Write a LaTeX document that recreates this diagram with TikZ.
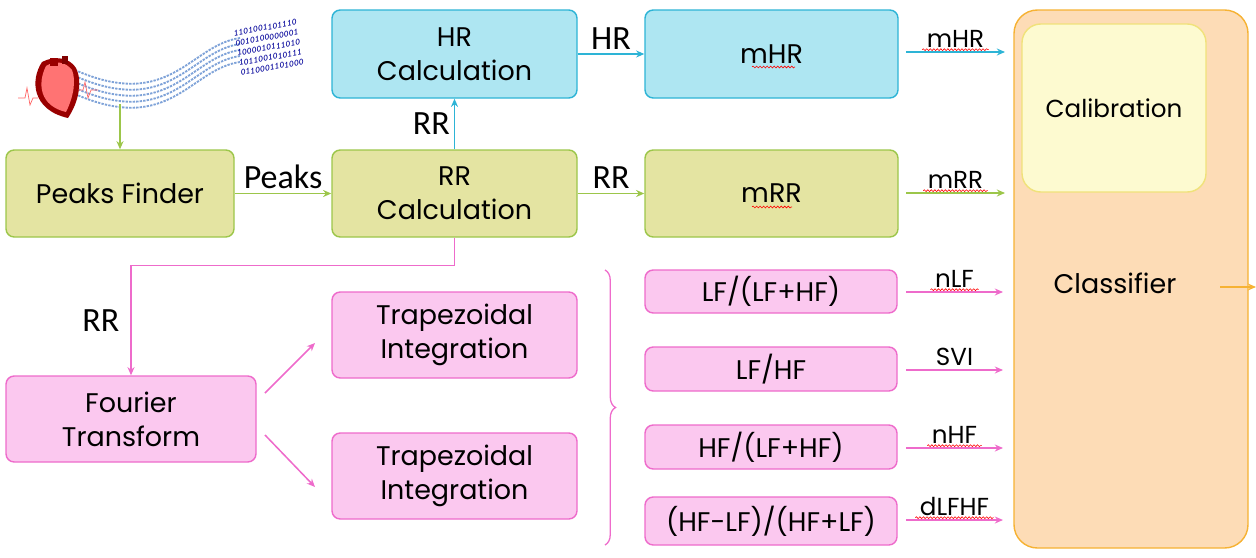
\documentclass[tikz,border=0pt]{standalone}
\usepackage{fontspec}
\setmainfont{Poppins}
\newfontfamily\carlitofam{Carlito}
\usetikzlibrary{arrows.meta,decorations.pathmorphing,decorations.pathreplacing}
\definecolor{cyF}{HTML}{AEE6F2}\definecolor{cyD}{HTML}{2DB4D6}
\definecolor{grF}{HTML}{E4E4A2}\definecolor{grD}{HTML}{9CC64A}
\definecolor{pkF}{HTML}{FBC8EF}\definecolor{pkD}{HTML}{EE6BCB}
\definecolor{orF}{HTML}{FDDCB6}\definecolor{orD}{HTML}{F6B233}
\definecolor{caF}{HTML}{FDFAD0}\definecolor{caD}{HTML}{F0E27A}
\begin{document}
\begin{tikzpicture}[x=0.03cm,y=-0.03cm,
  bx/.style={draw,rounded corners=7pt,line width=1.2pt,align=center,font=\fontsize{23}{29}\selectfont,inner sep=0},
  cy/.style={bx,fill=cyF,draw=cyD}, gr/.style={bx,fill=grF,draw=grD}, pk/.style={bx,fill=pkF,draw=pkD},
  ar/.style={-{Stealth[length=7pt,width=6pt]},line width=1.3pt},
  lb/.style={font=\carlitofam\fontsize{29}{32}\selectfont},
  lc/.style={font=\fontsize{21}{24}\selectfont},
  sq/.style={red,line width=0.5pt,decorate,decoration={snake,amplitude=0.8pt,segment length=3pt}}]
\useasboundingbox (0,0) rectangle (1256,557);
% boxes
\node[cy,minimum width=245*0.03cm,minimum height=88*0.03cm] (hr) at (454.5,54) {HR\\Calculation};
\node[cy,minimum width=253*0.03cm,minimum height=88*0.03cm] (mhr) at (771.5,54) {mHR};
\node[gr,minimum width=228*0.03cm,minimum height=87*0.03cm] (pf) at (120,193.5) {Peaks Finder};
\node[gr,minimum width=245*0.03cm,minimum height=87*0.03cm] (rr) at (454.5,193.5) {RR\\Calculation};
\node[gr,minimum width=253*0.03cm,minimum height=87*0.03cm] (mrr) at (771.5,193.5) {mRR};
\node[bx,fill=orF,draw=orD,rounded corners=20pt,minimum width=234*0.03cm,minimum height=538*0.03cm] (cl) at (1131,279) {};
\node[bx,fill=caF,draw=caD,rounded corners=16pt,minimum width=184*0.03cm,minimum height=168*0.03cm] (cal) at (1114,108) {};
\node[lc] at (1114,108) {Calibration};
\node[font=\fontsize{23}{26}\selectfont] (clt) at (1115,283) {Classifier};
\node[pk,minimum width=252*0.03cm,minimum height=43*0.03cm] (f1) at (771,291.5) {LF/(LF+HF)};
\node[pk,minimum width=252*0.03cm,minimum height=44*0.03cm] (f2) at (771,369) {LF/HF};
\node[pk,minimum width=252*0.03cm,minimum height=44*0.03cm] (f3) at (771,447) {HF/(LF+HF)};
\node[pk,minimum width=252*0.03cm,minimum height=48*0.03cm] (f4) at (771,521) {(HF-LF)/(HF+LF)};
\node[pk,minimum width=245*0.03cm,minimum height=86*0.03cm] (t1) at (454.5,335) {Trapezoidal\\Integration};
\node[pk,minimum width=245*0.03cm,minimum height=86*0.03cm] (t2) at (454.5,476) {Trapezoidal\\Integration};
\node[pk,minimum width=250*0.03cm,minimum height=86*0.03cm] (ft) at (131,419) {Fourier\\Transform};
% brace
\draw[pkD,line width=1.1pt,decorate,decoration={brace,amplitude=9pt}] (605,270) -- (605,545);
% heart & data stream
\coordinate (hb) at (120,104);
\begin{scope}[blue!60!cyan!70!black]
\foreach \i in {0,...,4}{
  \draw[line width=1.6pt,dash pattern=on 2pt off 1pt,opacity=0.5] (75,{70+6*\i}) .. controls (170,{112+6*\i}) and (190,{45+6*\i}) .. (240,{38+6*\i});
}
\end{scope}
\node[font=\ttfamily\bfseries\itshape\fontsize{8}{8.6}\selectfont,text=blue!60!black,align=right,rotate=10,inner sep=0,anchor=east] (bits) at (300,42) {1101001101110\\0010100000001\\1000010111010\\1011001010111\\0110001101000};
\fill[red!60!black] (42,62) .. controls (30,80) and (32,110) .. (68,118) .. controls (80,100) and (82,80) .. (76,68) .. controls (70,58) and (55,55) .. cycle;
\fill[red!55] (46,66) .. controls (37,84) and (40,106) .. (66,112) .. controls (74,96) and (76,80) .. (72,70) .. controls (66,62) and (55,60) .. cycle;
\fill[red!60!black] (50,58) rectangle (58,66);
\fill[red!50!black] (62,56) rectangle (68,64);
\draw[red!60,line width=0.6pt] (18,98) -- (25,98) -- (27,88) -- (30,105) -- (33,98) -- (38,98);
\draw[red!60,line width=0.6pt] (78,90) -- (83,90) -- (85,82) -- (88,98) -- (91,90) -- (98,90);
\draw[ar,grD] (hb) -- (pf);
% connectors
\draw[ar,grD] (pf) -- node[lb,above,text=black] {Peaks} (rr);
\draw[ar,grD] (rr) -- node[lb,above,text=black] {RR} (mrr);
\draw[ar,cyD] (rr) -- node[lb,left,text=black] {RR} (hr);
\draw[ar,cyD] (hr) -- node[lb,above,text=black] {HR} (mhr);
\coordinate (o1) at (1005,52); \coordinate (o2) at (1005,193);
\draw[ar,cyD] (906,52) coordinate (s1) -- node[lc,above,text=black] (l1) {mHR} (o1);
\draw[ar,grD] (906,193) coordinate (s2) -- node[lc,above,text=black] (l2) {mRR} (o2);
\draw[ar,pkD] (rr.south) -- ++(0,28) -| node[lb,pos=0.75,left,text=black,xshift=-6pt] {RR} (ft.north);
\coordinate (a1) at (315,343); \coordinate (a2) at (315,487);
\draw[ar,pkD] (265,393) -- (a1);
\draw[ar,pkD] (265,435) -- (a2);
\foreach \n/\y/\t in {1/292/nLF,2/370/SVI,3/448/nHF,4/520/dLFHF}{
  \coordinate (e\n) at (1003,\y);
  \draw[ar,pkD] (906,\y) -- node[lc,above,text=black] (m\n) {\t} (e\n);
}
\coordinate (out) at (1256,287);
\draw[ar,orD] (1220,287) -- (out);
% spelling squiggles
\draw[sq] ([yshift=2pt]l1.south west) -- ([yshift=2pt]l1.south east);
\draw[sq] ([yshift=2pt]l2.south west) -- ([yshift=2pt]l2.south east);
\draw[sq] ([yshift=2pt]m1.south west) -- ([yshift=2pt]m1.south east);
\draw[sq] ([yshift=2pt]m3.south west) -- ([yshift=2pt]m3.south east);
\draw[sq] ([yshift=2pt]m4.south west) -- ([yshift=2pt]m4.south east);
\draw[sq] (752,67) -- (795,67);
\draw[sq] (752,207) -- (792,207);
\end{tikzpicture}
\end{document}
